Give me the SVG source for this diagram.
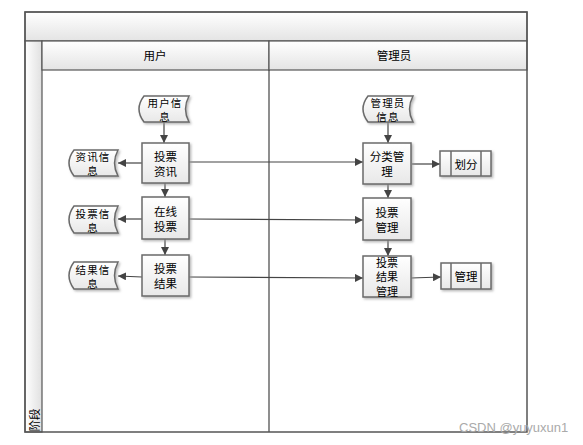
<svg xmlns="http://www.w3.org/2000/svg" width="583" height="445" viewBox="0 0 583 445">
<style>
text{font-family:"Noto Sans CJK SC","Liberation Sans",sans-serif;font-size:11.5px;fill:#000;text-anchor:middle;dominant-baseline:central}
.d text{font-size:10.5px;letter-spacing:1.2px}
.t3{font-size:11px}
.frame{fill:none;stroke:#555;stroke-width:1.5}
.hdr{fill:url(#hg);stroke:#555;stroke-width:1.2}
.box{fill:url(#bg);stroke:#6a6a6a;stroke-width:1.5;filter:url(#sh)}
.edge{stroke:#444;stroke-width:1.2;fill:none;marker-end:url(#ah)}
.wm{font-family:"Liberation Sans",sans-serif;font-size:13px;fill:#aaa;text-anchor:start;dominant-baseline:auto}
</style>
<defs>
<linearGradient id="hg" x1="0" y1="0" x2="0" y2="1"><stop offset="0" stop-color="#ffffff"/><stop offset="1" stop-color="#e4e4e4"/></linearGradient>
<linearGradient id="sg" x1="0" y1="0" x2="1" y2="0"><stop offset="0" stop-color="#ffffff"/><stop offset="1" stop-color="#e0e0e0"/></linearGradient>
<linearGradient id="bg" x1="0" y1="0" x2="0" y2="1"><stop offset="0" stop-color="#ffffff"/><stop offset="1" stop-color="#e8e8e8"/></linearGradient>
<filter id="sh" x="-20%" y="-20%" width="150%" height="150%"><feDropShadow dx="1.5" dy="1.5" stdDeviation="0.8" flood-color="#999" flood-opacity="0.7"/></filter>
<marker id="ah" viewBox="0 0 10 10" refX="10" refY="5" markerWidth="8" markerHeight="8" markerUnits="userSpaceOnUse" orient="auto"><path d="M0,0 L10,5 L0,10 z" fill="#444"/></marker>
</defs>

<g id="pool">
<rect x="25" y="12" width="502" height="420" fill="#fff" stroke="none"/>
<rect class="hdr" x="25" y="12" width="502" height="29"/>
<rect x="25" y="41" width="17" height="391" fill="url(#sg)" stroke="#555" stroke-width="1.2"/>
<rect class="hdr" x="42" y="41" width="227" height="29"/>
<rect class="hdr" x="269" y="41" width="258" height="29"/>
<line x1="269" y1="70" x2="269" y2="432" stroke="#444" stroke-width="1.2"/>
<rect class="frame" x="25" y="12" width="502" height="420"/>
<text x="155" y="55">用户</text>
<text x="394" y="55">管理员</text>
<text x="0" y="0" transform="translate(34,420) rotate(-90)">阶段</text>
</g>

<g id="connectors">
<line class="edge" x1="164" y1="122" x2="164" y2="143"/>
<line class="edge" x1="142" y1="163" x2="118" y2="163"/>
<line class="edge" x1="189" y1="162" x2="363" y2="162"/>
<line class="edge" x1="165" y1="183" x2="165" y2="197"/>
<line class="edge" x1="142" y1="219" x2="118" y2="219"/>
<line class="edge" x1="189" y1="219" x2="363" y2="220"/>
<line class="edge" x1="165" y1="239" x2="165" y2="255"/>
<line class="edge" x1="142" y1="277" x2="118" y2="276"/>
<line class="edge" x1="189" y1="277" x2="363" y2="278"/>
<line class="edge" x1="388" y1="122" x2="388" y2="143"/>
<line class="edge" x1="412" y1="164" x2="440" y2="164"/>
<line class="edge" x1="388" y1="184" x2="388" y2="198"/>
<line class="edge" x1="388" y1="240" x2="388" y2="256"/>
<line class="edge" x1="411" y1="278" x2="441" y2="277"/>
</g>

<g id="n-userinfo" class="d">
<path class="box" d="M144,96 L189,96 Q182,109 189,122 L144,122 Q134,109 144,96 z"/>
<text><tspan x="165" y="102">用户信</tspan><tspan x="165" y="116">息</tspan></text>
</g>
<g id="n-toupiaozixun">
<rect class="box" x="142" y="143" width="47" height="40"/>
<text><tspan x="165.5" y="156">投票</tspan><tspan x="165.5" y="171">资讯</tspan></text>
</g>
<g id="n-zixuninfo" class="d">
<path class="box" d="M74,150 L118,150 Q111,163 118,176 L74,176 Q64,163 74,150 z"/>
<text><tspan x="93" y="156">资讯信</tspan><tspan x="93" y="170">息</tspan></text>
</g>
<g id="n-zaixian">
<rect class="box" x="142" y="197" width="47" height="42"/>
<text><tspan x="165.5" y="211">在线</tspan><tspan x="165.5" y="226">投票</tspan></text>
</g>
<g id="n-toupiaoinfo" class="d">
<path class="box" d="M74,206 L118,206 Q111,219.5 118,233 L74,233 Q64,219.5 74,206 z"/>
<text><tspan x="93" y="212.5">投票信</tspan><tspan x="93" y="226.5">息</tspan></text>
</g>
<g id="n-toupiaojieguo">
<rect class="box" x="142" y="255" width="47" height="41"/>
<text><tspan x="165.5" y="268">投票</tspan><tspan x="165.5" y="283">结果</tspan></text>
</g>
<g id="n-jieguoinfo" class="d">
<path class="box" d="M74,262 L118,262 Q111,275.5 118,289 L74,289 Q64,275.5 74,262 z"/>
<text><tspan x="93" y="268.5">结果信</tspan><tspan x="93" y="282.5">息</tspan></text>
</g>
<g id="n-admininfo" class="d">
<path class="box" d="M368,96 L413,96 Q406,109 413,122 L368,122 Q358,109 368,96 z"/>
<text><tspan x="388" y="102">管理员</tspan><tspan x="388" y="116">信息</tspan></text>
</g>
<g id="n-fenlei">
<rect class="box" x="363" y="143" width="48" height="41"/>
<text><tspan x="387" y="156">分类管</tspan><tspan x="387" y="171">理</tspan></text>
</g>
<g id="n-huafen">
<rect class="box" x="440" y="151" width="51" height="25"/>
<line x1="451" y1="151" x2="451" y2="176" stroke="#6a6a6a" stroke-width="1.5"/>
<line x1="481" y1="151" x2="481" y2="176" stroke="#6a6a6a" stroke-width="1.5"/>
<text x="466" y="163.5">划分</text>
</g>
<g id="n-toupiaoguanli">
<rect class="box" x="363" y="198" width="48" height="42"/>
<text><tspan x="387" y="212">投票</tspan><tspan x="387" y="227">管理</tspan></text>
</g>
<g id="n-jieguoguanli">
<rect class="box" x="363" y="256" width="48" height="41"/>
<text class="t3"><tspan x="387" y="261.5">投票</tspan><tspan x="387" y="276">结果</tspan><tspan x="387" y="290.5">管理</tspan></text>
</g>
<g id="n-guanli">
<rect class="box" x="441" y="263" width="50" height="26"/>
<line x1="451" y1="263" x2="451" y2="289" stroke="#6a6a6a" stroke-width="1.5"/>
<line x1="481" y1="263" x2="481" y2="289" stroke="#6a6a6a" stroke-width="1.5"/>
<text x="466" y="276">管理</text>
</g>

<text class="wm" x="459" y="432">CSDN @yuyuxun1</text>
</svg>
